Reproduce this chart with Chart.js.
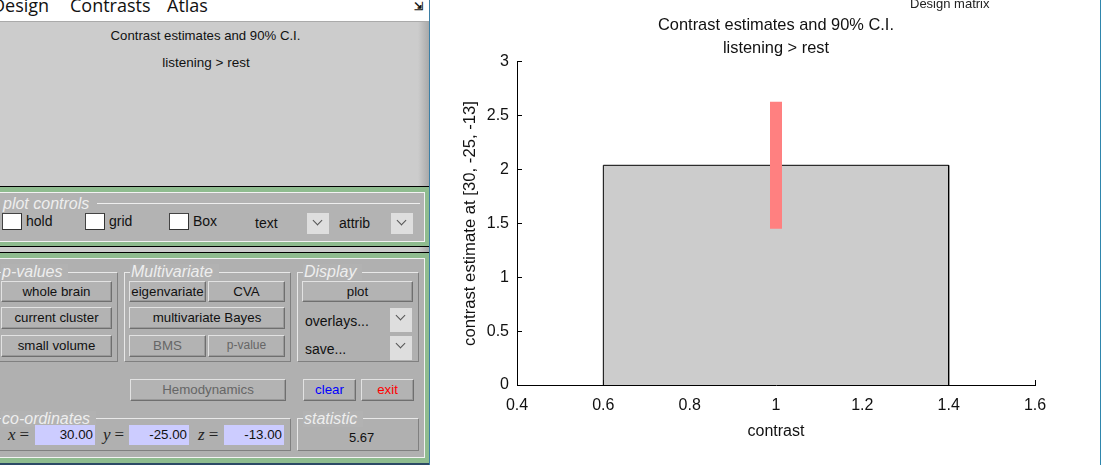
<!DOCTYPE html>
<html>
<head>
<meta charset="utf-8">
<title>Contrast estimates</title>
<script src="https://cdn.jsdelivr.net/npm/chart.js@4"></script>
<style>
  html, body { margin: 0; padding: 0; background: #fff; width: 1101px; height: 465px; overflow: hidden; }
  body { position: relative; font-family: "Liberation Sans", Arial, sans-serif; color: #111; }
  .abs, .btn, .frame, .drop, .input, .check, .lg, .menu { position: absolute; box-sizing: border-box; white-space: nowrap; }
  .menu { font-family: "Open Sans", sans-serif; font-size: 18px; top: -7px; color: #111; }
  .btn { background: #b3b3b3; border: 1px solid; border-color: #e2e2e2 #6f6f6f #6f6f6f #e2e2e2; box-shadow: inset -1px -1px 0 #999;
         text-align: center; font-size: 13.3px; line-height: 19px; }
  .frame { border: 1px solid; border-color: #e8e8e8 #808080 #808080 #e8e8e8; }
  .lg { font-style: italic; color: #eee; font-size: 16px; background: #b2b2b2; line-height: 16px; padding: 0 6px 0 1px; }
  .drop { font-size: 14px; line-height: 24px; }
  .arrow { position: absolute; background: #dedede; width: 22px; height: 21px; }
  .arrow::after { content: ""; position: absolute; left: 7px; top: 4px; width: 6px; height: 6px; border-right: 1px solid #555; border-bottom: 1px solid #555; transform: rotate(45deg); }
  .check { background: #fff; border: 1px solid #333; border-color: #444 #333 #333 #444; width: 20px; height: 17px; top: 213px; }
  .input { background: #ccccff; text-align: right; font-size: 13.3px; line-height: 20px; top: 425px; height: 20px; width: 60px; padding-right: 2px; }
  .sym { position: absolute; font-family: "Liberation Serif", serif; font-size: 17px; top: 425px; color: #222; }
  .sym i { margin-right: 4px; }
  #chartBox { position: absolute; left: 431px; top: 0; width: 669px; height: 465px; }
</style>
</head>
<body>

<!-- left SPM window -->
<div class="abs" style="left:0;top:0;width:429px;height:21px;background:#fff;overflow:hidden">
  <span class="menu" style="left:-8px">Design</span>
  <span class="menu" style="left:70px">Contrasts</span>
  <span class="menu" style="left:167px">Atlas</span>
  <span class="abs" style="left:414px;top:0;font-size:11px;font-weight:bold">&#8690;</span>
</div>
<div class="abs" style="left:0;top:21px;width:429px;height:1px;background:#aaa"></div>
<div class="abs" style="left:0;top:22px;width:429px;height:164px;background:linear-gradient(to right,#ccc 0,#ccc 418px,#a9a9a9 429px)"></div>
<div class="abs" style="left:0;top:28px;width:411px;text-align:center;font-size:13.2px;line-height:16px">Contrast estimates and 90% C.I.</div>
<div class="abs" style="left:0;top:55px;width:412px;text-align:center;font-size:13.5px;line-height:16px">listening &gt; rest</div>

<div class="abs" style="left:0;top:186px;width:429px;height:1px;background:#000"></div>
<div class="abs" style="left:0;top:187px;width:429px;height:59px;background:#8fbc8f"></div>
<div class="abs" style="left:-2px;top:192px;width:427px;height:50px;background:#b3b3b3;border:1px solid #f2f2f2;box-sizing:border-box"></div>
<div class="abs" style="left:97px;top:203px;width:323px;height:1px;background:#eee"></div>
<span class="lg" style="left:2px;top:196px;background:none">plot controls</span>

<span class="check" style="left:2px"></span><span class="abs" style="left:26px;top:213px;font-size:14px">hold</span>
<span class="check" style="left:85px"></span><span class="abs" style="left:109px;top:213px;font-size:14px">grid</span>
<span class="check" style="left:169px"></span><span class="abs" style="left:193px;top:213px;font-size:14px">Box</span>
<span class="abs" style="left:255px;top:215px;font-size:14px">text</span>
<span class="arrow" style="left:307px;top:213px"></span>
<span class="abs" style="left:339px;top:215px;font-size:14px">attrib</span>
<span class="arrow" style="left:391px;top:213px"></span>

<div class="abs" style="left:0;top:246px;width:429px;height:1px;background:#000"></div>
<div class="abs" style="left:0;top:247px;width:429px;height:5px;background:linear-gradient(to right,#ccc 0,#ccc 418px,#a9a9a9 429px)"></div>
<div class="abs" style="left:0;top:252px;width:429px;height:1px;background:#000"></div>
<div class="abs" style="left:0;top:253px;width:429px;height:210px;background:#8fbc8f"></div>
<div class="abs" style="left:-2px;top:258px;width:427px;height:200px;background:#b0b0b0;border:1px solid #f2f2f2;box-sizing:border-box"></div>

<div class="frame" style="left:-2px;top:272px;width:120px;height:90px"></div>
<span class="lg" style="left:1px;top:264px">p-values</span>
<div class="btn" style="left:1px;top:281px;width:111px;height:21px">whole brain</div>
<div class="btn" style="left:1px;top:307px;width:111px;height:22px">current cluster</div>
<div class="btn" style="left:1px;top:335px;width:111px;height:22px">small volume</div>

<div class="frame" style="left:124px;top:272px;width:167px;height:90px"></div>
<span class="lg" style="left:130px;top:264px">Multivariate</span>
<div class="btn" style="left:129px;top:281px;width:77px;height:21px">eigenvariate</div>
<div class="btn" style="left:208px;top:281px;width:77px;height:21px">CVA</div>
<div class="btn" style="left:129px;top:307px;width:156px;height:22px">multivariate Bayes</div>
<div class="btn" style="left:129px;top:335px;width:77px;height:22px;color:#666">BMS</div>
<div class="btn" style="left:208px;top:335px;width:77px;height:22px;color:#666;font-size:12px">p-value</div>

<div class="frame" style="left:297px;top:272px;width:122px;height:90px"></div>
<span class="lg" style="left:303px;top:264px">Display</span>
<div class="btn" style="left:302px;top:281px;width:111px;height:21px">plot</div>
<div class="drop" style="left:305px;top:309px">overlays...</div>
<span class="arrow" style="left:390px;top:308px;height:24px"></span>
<div class="drop" style="left:305px;top:337px">save...</div>
<span class="arrow" style="left:390px;top:336px;height:24px"></span>

<div class="btn" style="left:130px;top:379px;width:156px;height:22px;color:#666">Hemodynamics</div>
<div class="btn" style="left:303px;top:379px;width:53px;height:22px;color:#0000ff">clear</div>
<div class="btn" style="left:361px;top:379px;width:53px;height:22px;color:#ff0000">exit</div>

<div class="frame" style="left:-2px;top:418px;width:293px;height:33px"></div>
<span class="lg" style="left:1px;top:411px">co-ordinates</span>
<span class="sym" style="left:8px"><i>x</i>=</span><div class="input" style="left:35px">30.00</div>
<span class="sym" style="left:103px"><i>y</i>=</span><div class="input" style="left:129px">-25.00</div>
<span class="sym" style="left:198px"><i>z</i>=</span><div class="input" style="left:224px">-13.00</div>

<div class="frame" style="left:297px;top:418px;width:122px;height:33px"></div>
<span class="lg" style="left:303px;top:411px">statistic</span>
<span class="abs" style="left:349px;top:430px;font-size:13px">5.67</span>

<div class="abs" style="left:0;top:463px;width:430px;height:2px;background:#2c4a66"></div>
<div class="abs" style="left:429px;top:0;width:1px;height:465px;background:#3d7fa5"></div>
<div class="abs" style="left:1100px;top:0;width:1px;height:465px;background:#2f86ad"></div>

<!-- figure window -->
<div id="chartBox"><canvas id="contrastChart"></canvas></div>
<div class="abs" style="left:910px;top:-3px;font-size:13px;line-height:14px;color:#222">Design matrix</div>

<script>
// values
const barX = [0.6, 0.6, 1.4, 1.4];
const barY = [0, 2.04, 2.04, 0];
const ciX = [1, 1];
const ciY = [1.45, 2.63];
const xTicks = [0.4, 0.6, 0.8, 1, 1.2, 1.4, 1.6];
const yTicks = [0, 0.5, 1, 1.5, 2, 2.5, 3];
const titleLines = ["Contrast estimates and 90% C.I.", "listening > rest"];
const xLabel = "contrast";
const yLabel = "contrast estimate at [30, -25, -13]";

const toPoints = (xs, ys) => xs.map((x, i) => ({ x: x, y: ys[i] }));
const font = { family: '"Liberation Sans", Arial, sans-serif', size: 16 };

new Chart(document.getElementById("contrastChart"), {
  type: "scatter",
  data: {
    datasets: [
      {
        label: "90% C.I.",
        data: toPoints(ciX, ciY),
        showLine: true,
        borderColor: "#ff8080",
        borderWidth: 12,
        borderCapStyle: "butt",
        pointRadius: 0,
        order: 1
      },
      {
        label: "contrast",
        data: toPoints(barX, barY),
        showLine: true,
        borderColor: "#000",
        borderWidth: 1,
        backgroundColor: "#cccccc",
        fill: "origin",
        tension: 0,
        pointRadius: 0,
        order: 2
      }
    ]
  },
  options: {
    responsive: true,
    maintainAspectRatio: false,
    animation: false,
    layout: { padding: { left: 1, right: 65, top: 0, bottom: 0 } },
    plugins: {
      legend: { display: false },
      tooltip: { enabled: false },
      title: {
        display: true,
        text: titleLines,
        color: "#111",
        fullSize: false,
        font: { family: font.family, size: 16.4, weight: "normal", lineHeight: 1.4 },
        padding: { top: 14, bottom: 2 }
      }
    },
    scales: {
      x: {
        type: "linear",
        min: 0.4,
        max: 1.6,
        afterBuildTicks: s => { s.ticks = xTicks.map(v => ({ value: v })); },
        afterFit: s => { s.height = 80; },
        grid: {
          drawOnChartArea: false,
          tickLength: -5,
          // ticks under the bar stay hidden, only the outer ones show
          tickColor: c => (c.tick && c.tick.value > 0.6 && c.tick.value < 1.4 ? "transparent" : "#000")
        },
        border: { color: "#000" },
        ticks: { color: "#111", font: font, padding: 16, maxRotation: 0, autoSkip: false, callback: v => String(v) },
        title: { display: true, text: xLabel, color: "#111", font: font, padding: { top: 0, bottom: 24 } }
      },
      y: {
        type: "linear",
        min: 0,
        max: 3,
        afterBuildTicks: s => { s.ticks = yTicks.map(v => ({ value: v })); },
        afterFit: s => { s.width = 85; },
        grid: { drawOnChartArea: false, tickLength: -5, tickColor: "#000" },
        border: { color: "#000" },
        ticks: { color: "#111", font: font, padding: 13, autoSkip: false, callback: v => String(v) },
        title: { display: true, text: yLabel, color: "#111", font: { family: font.family, size: 16.7 }, padding: { top: 28, bottom: 0 } }
      }
    }
  }
});
</script>
</body>
</html>
